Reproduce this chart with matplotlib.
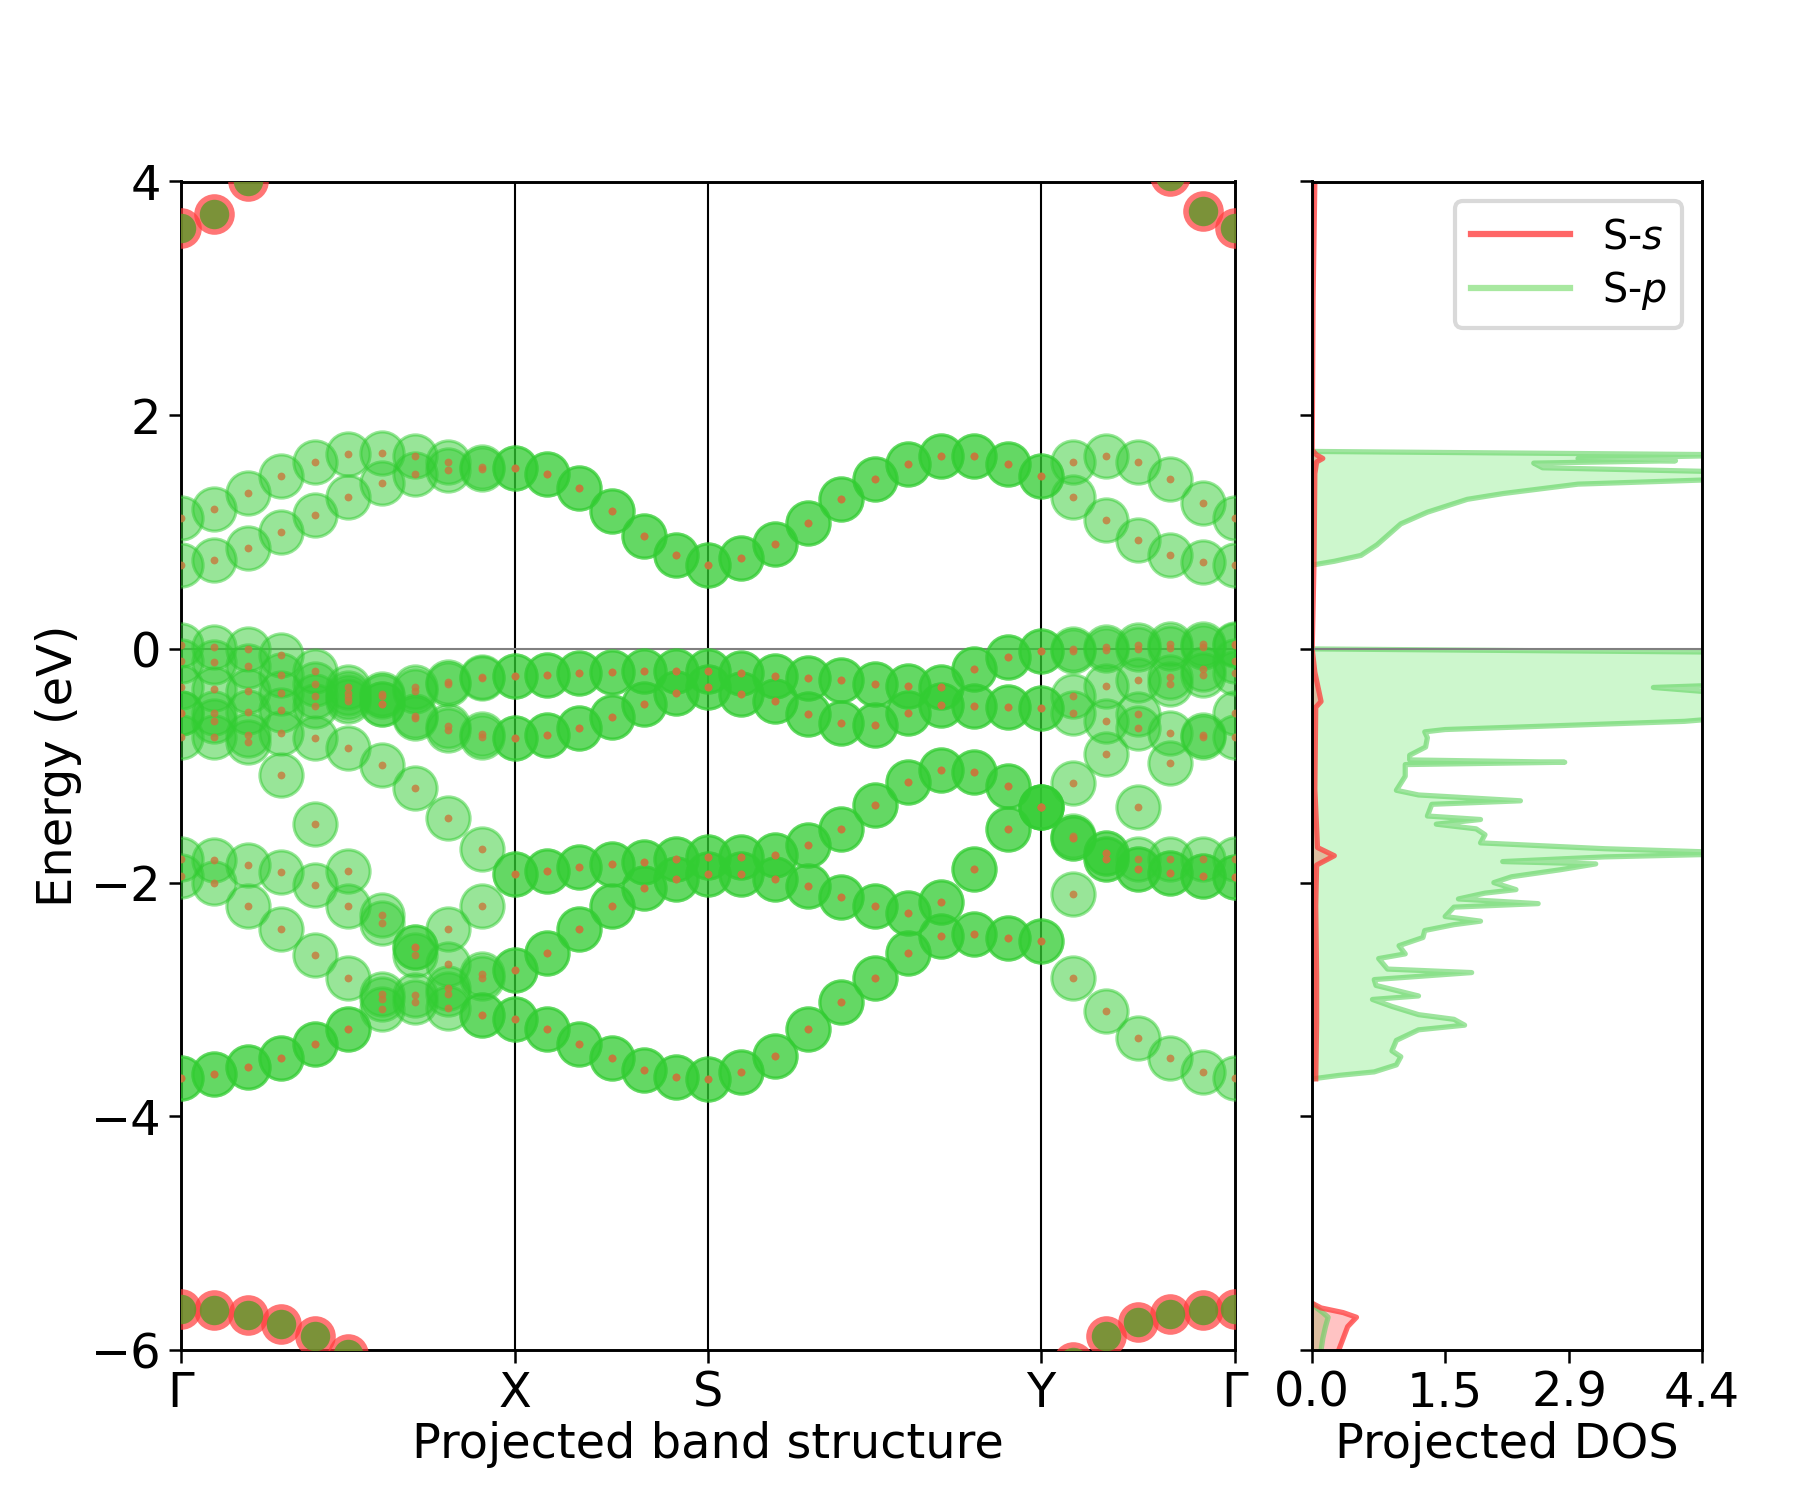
import numpy as np
import matplotlib
matplotlib.use("Agg")
import matplotlib.pyplot as plt

# ---------------- k-path ----------------
kpath_labels = ["Γ", "X", "S", "Y", "Γ"]
kpath_pos = [0.0, 0.317, 0.5, 0.816, 1.0]
seg_npts = [10, 6, 10, 6]  # intervals per segment

# ---------------- band segments (eV) ----------------
# Γ-X (11 values incl. both ends)
GX_c1 = [0.72, 0.76, 0.86, 1.0, 1.15, 1.3, 1.42, 1.5, 1.53, 1.54, 1.55]
GX_c2 = [1.12, 1.2, 1.33, 1.48, 1.6, 1.67, 1.68, 1.65, 1.6, 1.56, 1.55]
GX_r1 = [3.6, 3.72, 4.0, 4.35, 4.7, 5, 5, 5, 5, 5, 5]
GX_r2 = [-5.65, -5.66, -5.7, -5.78, -5.88, -6.03, -6.2, -6.5, -6.5, -6.5, -6.5]
GX_1 = [0.03, 0.02, 0.0, -0.05, -0.19, -0.33, -0.47, -0.59, -0.69, -0.75, -0.76]
GX_2 = [-0.1, -0.11, -0.15, -0.22, -0.3, -0.38, -0.47, -0.57, -0.66, -0.73, -0.76]
GX_3 = [-0.33, -0.34, -0.36, -0.38, -0.4, -0.41, -0.4, -0.36, -0.3, -0.25, -0.23]
GX_4 = [-0.55, -0.55, -0.54, -0.52, -0.49, -0.45, -0.39, -0.33, -0.28, -0.24, -0.23]
GX_5 = [-0.75, -0.75, -0.74, -0.72, -0.76, -0.85, -0.99, -1.19, -1.45, -1.71, -1.93]
GX_6 = [-0.55, -0.62, -0.8, -1.08, -1.5, -1.9, -2.28, -2.62, -2.95, -3.13, -3.17]
GX_7 = [-3.67, -3.64, -3.58, -3.5, -3.38, -3.25, -3.0, -2.55, -2.4, -2.2, -1.93]
GX_8 = [-1.8, -1.81, -1.85, -1.91, -2.02, -2.2, -2.35, -2.55, -2.7, -2.78, -2.75]
GX_9 = [-1.94, -2.0, -2.2, -2.4, -2.62, -2.82, -2.95, -3.02, -3.07, -3.13, -3.17]
GX_10 = [-3.67, -3.64, -3.58, -3.5, -3.38, -3.25, -3.08, -2.96, -2.9, -2.82, -2.75]
# X-S (6 values, excluding X)
XS_c = [1.5, 1.38, 1.18, 0.97, 0.8, 0.72]
XS_up = [5, 5, 5, 5, 5, 5]
XS_dn = [-6.5, -6.5, -6.5, -6.5, -6.5, -6.5]
XS_1 = [-0.22, -0.21, -0.2, -0.19, -0.19, -0.19]
XS_2 = [-0.74, -0.68, -0.58, -0.47, -0.38, -0.33]
XS_3 = [-1.9, -1.87, -1.84, -1.82, -1.8, -1.78]
XS_4 = [-2.6, -2.4, -2.2, -2.05, -1.97, -1.93]
XS_5 = [-3.25, -3.38, -3.5, -3.6, -3.66, -3.68]
# S-Y (10 values, excluding S)
SY_c = [0.78, 0.9, 1.08, 1.28, 1.45, 1.58, 1.65, 1.65, 1.58, 1.48]
SY_up = [5] * 10
SY_dn = [-6.5] * 10
SY_U1 = [-0.21, -0.23, -0.25, -0.27, -0.3, -0.32, -0.33, -0.17, -0.07, -0.02]
SY_U2 = [-0.39, -0.45, -0.56, -0.63, -0.65, -0.55, -0.48, -0.49, -0.5, -0.51]
SY_M1 = [-1.78, -1.76, -1.68, -1.54, -1.34, -1.14, -1.04, -1.05, -1.17, -1.35]
SY_M2 = [-1.93, -1.97, -2.03, -2.12, -2.2, -2.26, -2.17, -1.88, -1.54, -1.35]
SY_L = [-3.62, -3.48, -3.25, -3.02, -2.82, -2.6, -2.46, -2.44, -2.47, -2.5]
# Y-Γ (6 values, excluding Y)
YG_c1 = [1.3, 1.1, 0.93, 0.8, 0.74, 0.72]
YG_c2 = [1.6, 1.65, 1.6, 1.45, 1.25, 1.12]
YG_r1 = [5, 5, 4.6, 4.05, 3.75, 3.6]
YG_r2 = [-6.1, -5.88, -5.76, -5.69, -5.66, -5.65]
YG_1 = [0.0, 0.02, 0.03, 0.04, 0.04, 0.04]
YG_2 = [-0.02, -0.01, 0.0, 0.01, 0.02, 0.03]
YG_3 = [-0.40, -0.32, -0.27, -0.24, -0.22, -0.21]
YG_4 = [-0.55, -0.62, -0.68, -0.72, -0.74, -0.75]
YG_5 = [-1.15, -0.9, -0.56, -0.3, -0.17, -0.1]
YG_6 = [-1.6, -1.75, -1.8, -1.8, -1.8, -1.8]
YG_7 = [-2.82, -3.1, -3.33, -3.5, -3.62, -3.67]
YG_8 = [-2.1, -1.75, -1.35, -0.98, -0.75, -0.55]
YG_9 = [-1.62, -1.8, -1.88, -1.92, -1.94, -1.95]

green_bands = [
    (GX_c1, XS_c, SY_c, YG_c1), (GX_c2, XS_c, SY_c, YG_c2),
    (GX_1, XS_2, SY_U2, YG_4), (GX_2, XS_2, SY_U2, YG_3),
    (GX_3, XS_1, SY_U1, YG_1), (GX_4, XS_1, SY_U1, YG_2),
    (GX_5, XS_3, SY_M1, YG_5), (GX_6, XS_5, SY_L, YG_7),
    (GX_7, XS_3, SY_M1, YG_6), (GX_8, XS_4, SY_M2, YG_9),
    (GX_9, XS_5, SY_L, YG_8), (GX_10, XS_4, SY_M2, YG_9),
]
red_bands = [(GX_r1, XS_up, SY_up, YG_r1), (GX_r2, XS_dn, SY_dn, YG_r2)]

# ---------------- DOS ----------------
dos_E_cb = [0.72, 0.75, 0.80, 0.89, 0.99, 1.07, 1.17, 1.28, 1.33, 1.41, 1.46, 1.51,
            1.55, 1.59, 1.61, 1.63, 1.66, 1.69]
dos_p_cb = [0.02, 0.25, 0.55, 0.73, 0.88, 1.0, 1.3, 1.75, 2.16, 3.0, 5.0, 5.0,
            2.6, 2.5, 4.1, 3.0, 5.0, 0.0]
dos_E_vb = [-3.68, -3.65, -3.62, -3.56, -3.49, -3.44, -3.35, -3.26, -3.22, -3.17, -3.13,
            -3.06, -3.0, -2.97, -2.88, -2.83, -2.77, -2.74, -2.65, -2.61, -2.54, -2.47,
            -2.41, -2.36, -2.33, -2.29, -2.21, -2.18, -2.14, -2.09, -2.06, -2.0, -1.95,
            -1.89, -1.84, -1.82, -1.78, -1.75, -1.71, -1.66, -1.59, -1.54, -1.5, -1.46,
            -1.43, -1.33, -1.30, -1.25, -1.21, -1.09, -0.99, -0.97, -0.95, -0.91, -0.84,
            -0.76, -0.71, -0.69, -0.62, -0.57, -0.4, -0.33, -0.3, -0.1, -0.03, 0.0]
dos_p_vb = [0.0, 0.3, 0.7, 0.95, 1.0, 0.9, 0.95, 1.2, 1.72, 1.6, 1.2, 0.9, 0.68, 1.2,
            0.72, 0.7, 1.8, 0.85, 0.75, 1.05, 0.98, 1.25, 1.27, 1.6, 1.9, 1.5, 1.6, 2.55,
            1.65, 1.95, 2.3, 2.05, 2.25, 2.8, 3.2, 2.15, 3.3, 5.0, 3.3, 1.9, 1.95, 1.85,
            1.4, 1.9, 1.3, 1.35, 2.35, 1.2, 0.95, 1.05, 1.05, 2.85, 1.1, 1.1, 1.28, 1.3,
            1.27, 1.5, 4.2, 5.0, 5.0, 3.85, 5.0, 5.0, 5.0, 0.0]
dos_E_low = [-6.0, -5.9, -5.8, -5.72, -5.68, -5.64, -5.6]
dos_p_low = [0.1, 0.12, 0.15, 0.18, 0.12, 0.05, 0.0]
dos_s_low = [0.3, 0.35, 0.4, 0.5, 0.35, 0.1, 0.0]
dos_E_s = [-3.68, -3.2, -2.8, -2.2, -1.85, -1.77, -1.7, -1.2, -0.5, -0.45, -0.2, 0.0,
           0.72, 1.5, 1.6, 1.63, 1.66, 1.7, 3.0, 4.0]
dos_s = [0.04, 0.05, 0.05, 0.04, 0.05, 0.25, 0.06, 0.03, 0.04, 0.1, 0.03, 0.0,
         0.02, 0.03, 0.05, 0.12, 0.05, 0.0, 0.01, 0.03]

green = "#32CD32"
red = "#FF3B3B"

fig = plt.figure(figsize=(12, 10), dpi=150)
ax = fig.add_axes([0.1006, 0.10, 0.5855, 0.779])
ax2 = fig.add_axes([0.729, 0.10, 0.2166, 0.779])

kseg = [np.linspace(kpath_pos[i], kpath_pos[i + 1], n + 1) for i, n in enumerate(seg_npts)]
kgrid = np.concatenate([kseg[0]] + [s[1:] for s in kseg[1:]])

for b in green_bands:
    e = np.concatenate([np.array(x, float) for x in b])
    ax.scatter(kgrid, e, s=430, color=green, alpha=0.5, edgecolors=green, linewidths=1.5, zorder=3)
    ax.scatter(kgrid, e, s=14, color="#C8783C", alpha=0.8, zorder=4, linewidths=0)
for b in red_bands:
    e = np.concatenate([np.array(x, float) for x in b])
    ax.scatter(kgrid, e, s=380, color=red, alpha=0.7, linewidths=0, zorder=3)
    ax.scatter(kgrid, e, s=200, color="#5A9A2A", alpha=0.8, linewidths=0, zorder=4)

for p in kpath_pos[1:-1]:
    ax.axvline(p, color="black", lw=1)
ax.axhline(0, color="gray", lw=1)
ax.set_xlim(0, 1)
ax.set_ylim(-6, 4)
ax.set_xticks(kpath_pos)
ax.set_xticklabels(kpath_labels)
ax.set_yticks([-6, -4, -2, 0, 2, 4])
ax.set_yticklabels(["−6", "−4", "−2", "0", "2", "4"])
ax.tick_params(labelsize=23, width=1.2, length=6)
ax.set_ylabel("Energy (eV)", fontsize=23)
ax.set_xlabel("Projected band structure", fontsize=23, labelpad=2)
for sp in ax.spines.values():
    sp.set_linewidth(1.4)

# DOS panel
ax2.fill_betweenx(dos_E_cb, 0, dos_p_cb, color="#90EE90", alpha=0.45, lw=0)
ax2.plot(dos_p_cb, dos_E_cb, color="#5FD35F", alpha=0.6, lw=2.5)
ax2.fill_betweenx(dos_E_vb, 0, dos_p_vb, color="#90EE90", alpha=0.45, lw=0)
ax2.plot(dos_p_vb, dos_E_vb, color="#5FD35F", alpha=0.6, lw=2.5)
ax2.fill_betweenx(dos_E_low, 0, dos_p_low, color="#90EE90", alpha=0.45, lw=0)
ax2.plot(dos_p_low, dos_E_low, color="#5FD35F", alpha=0.6, lw=2.5)
ax2.fill_betweenx(dos_E_low, 0, dos_s_low, color=red, alpha=0.3, lw=0)
ax2.plot(dos_s_low, dos_E_low, color=red, alpha=0.75, lw=2.5)
ax2.fill_betweenx(dos_E_s, 0, dos_s, color=red, alpha=0.3, lw=0)
ax2.plot(dos_s, dos_E_s, color=red, alpha=0.75, lw=2.5)
ax2.plot([], [], color="#FF6666", lw=3, label="S-$s$")
ax2.plot([], [], color="#A8E8A0", lw=3, label="S-$p$")
ax2.axhline(0, color="gray", lw=1)
ax2.set_xlim(0, 4.4)
ax2.set_ylim(-6, 4)
ax2.set_xticks([0.0, 1.5, 2.9, 4.4])
ax2.set_xticklabels(["0.0", "1.5", "2.9", "4.4"])
ax2.set_yticks([-6, -4, -2, 0, 2, 4])
ax2.set_yticklabels([])
ax2.tick_params(labelsize=23, width=1.2, length=6)
ax2.set_xlabel("Projected DOS", fontsize=23, labelpad=2)
for sp in ax2.spines.values():
    sp.set_linewidth(1.4)
leg = ax2.legend(loc="upper right", fontsize=19, frameon=True, handlelength=2.5,
                 borderaxespad=0.5, labelspacing=0.3)
leg.get_frame().set_edgecolor("#D0D0D0")
leg.get_frame().set_linewidth(2)

fig.savefig("out.png", dpi=150)
